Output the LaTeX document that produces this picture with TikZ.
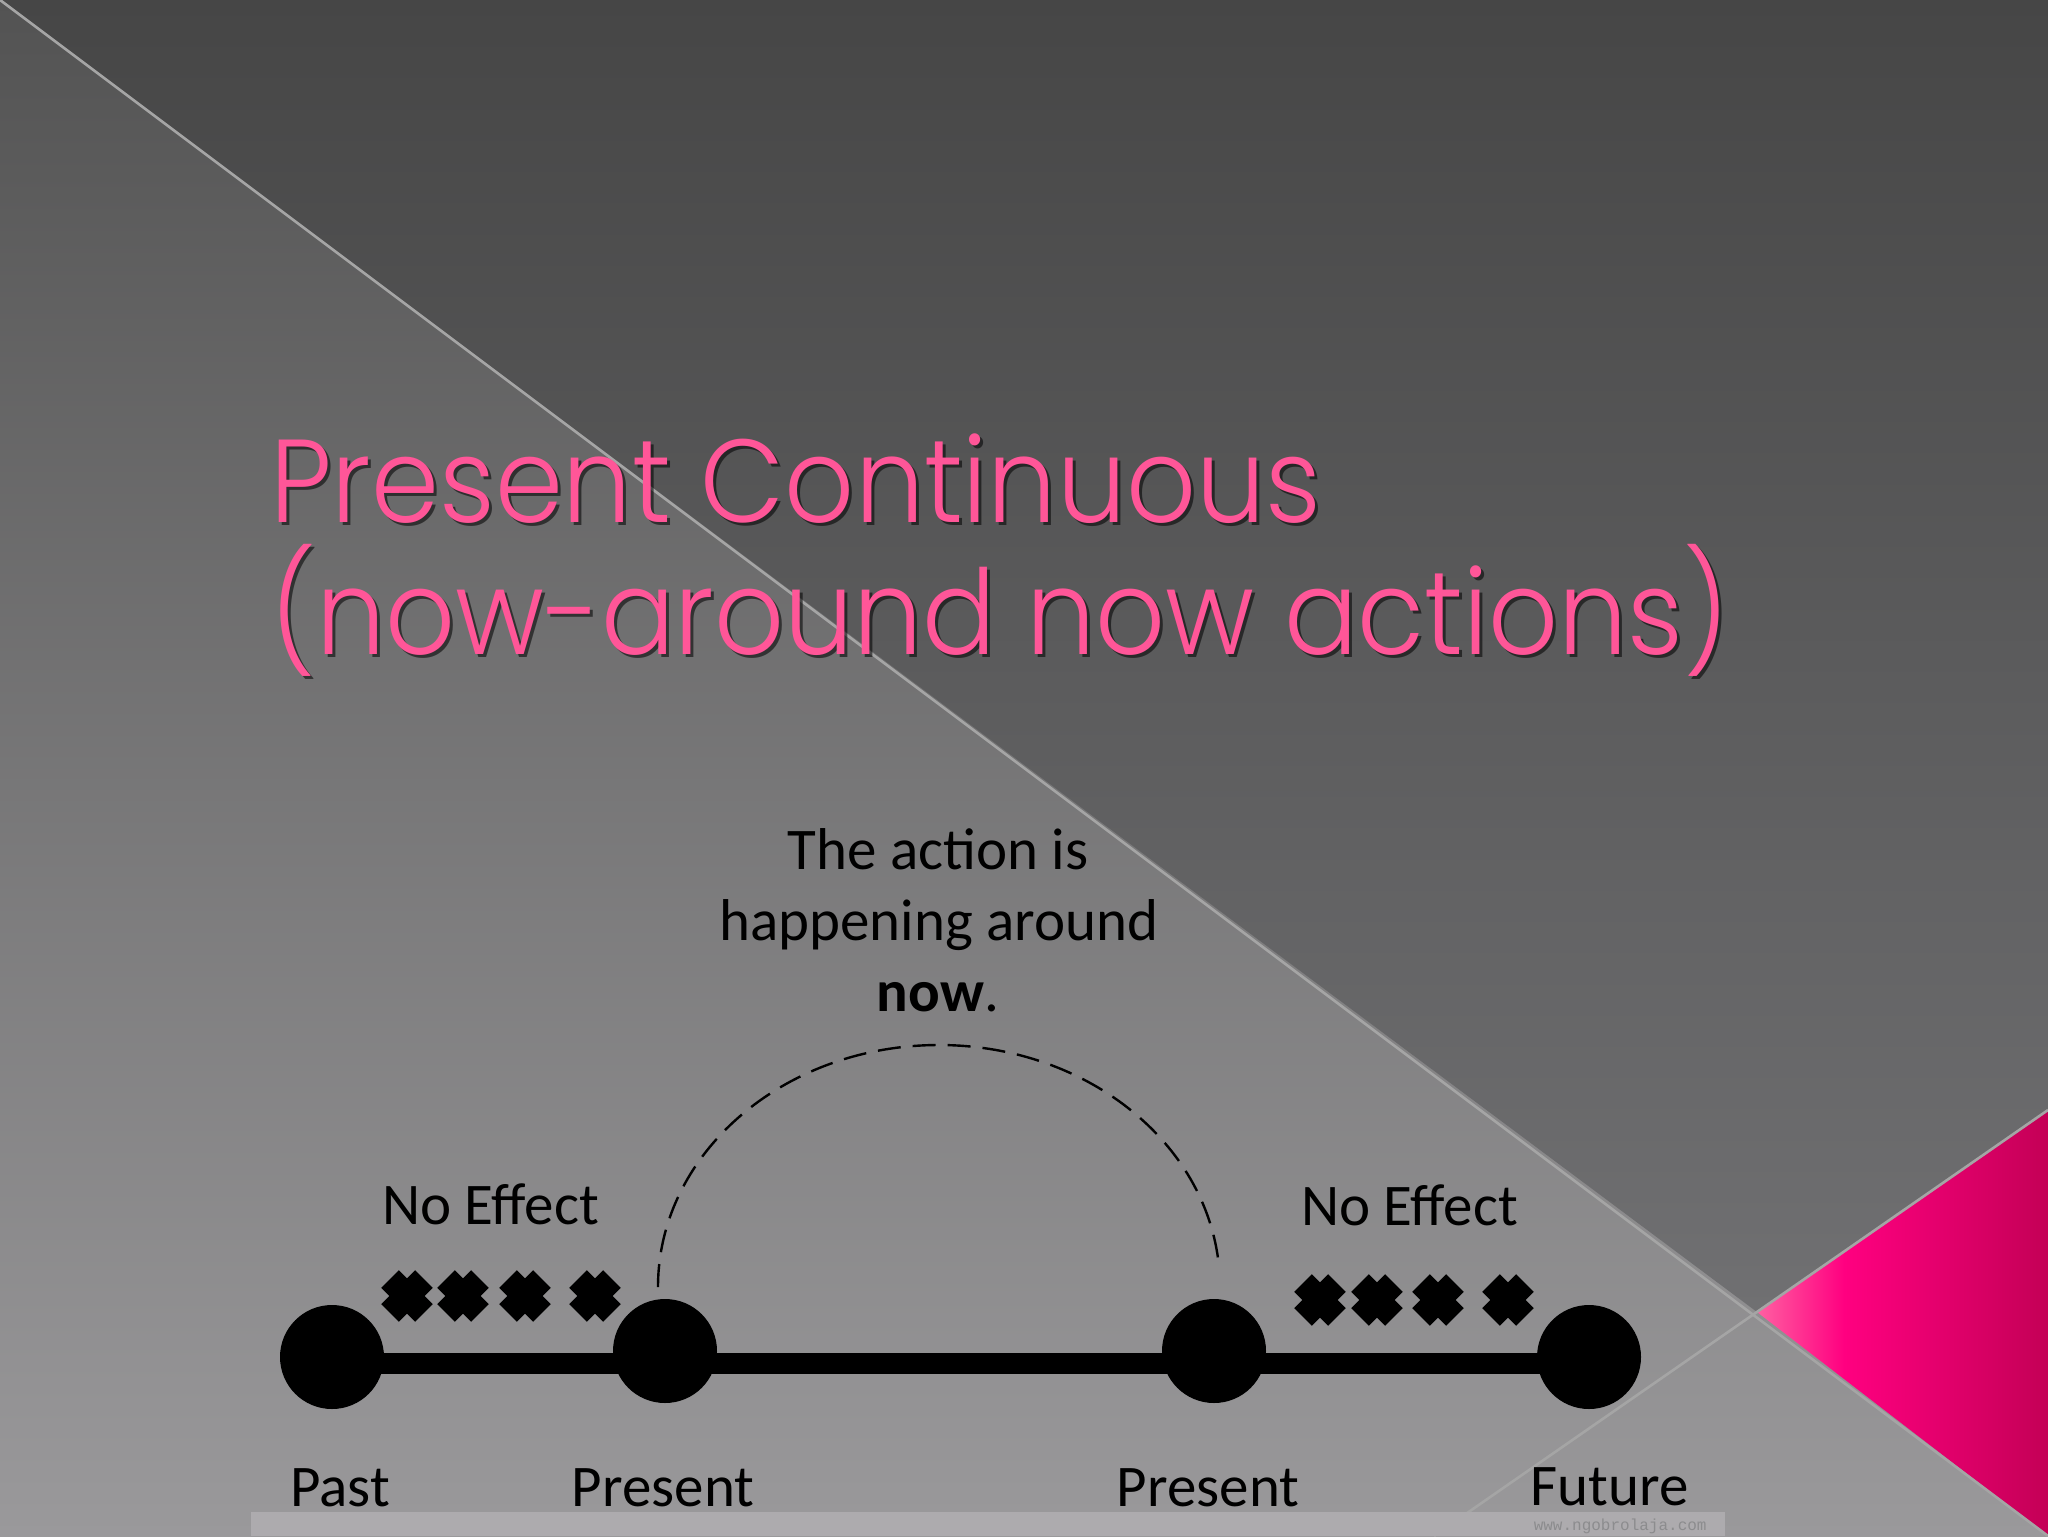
\documentclass[tikz,border=0pt]{standalone}
\usepackage{graphicx}
\usepackage{fontspec}
\setmainfont{Carlito}
\newfontfamily\titlefont{Poppins Light}
\newfontfamily\wmfont{Liberation Mono}
\definecolor{bgtop}{RGB}{83,83,83}
\definecolor{bgmid}{RGB}{106,106,107}
\definecolor{bgbot}{RGB}{154,153,155}
\definecolor{uptop}{RGB}{70,70,70}
\definecolor{upbot}{RGB}{112,112,114}
\definecolor{pinkL}{RGB}{255,96,162}
\definecolor{pinkM}{RGB}{255,0,128}
\definecolor{pinkR}{RGB}{196,0,86}
\definecolor{edgegray}{RGB}{165,165,165}
\definecolor{titlepink}{RGB}{255,86,152}
\definecolor{stripgray}{RGB}{173,171,174}
\definecolor{wmgray}{RGB}{140,140,142}
\pgfdeclarehorizontalshading{pinksh}{100bp}{color(0bp)=(pinkL); color(25bp)=(pinkL); color(40bp)=(pinkM); color(75bp)=(pinkR); color(100bp)=(pinkR)}
\newcommand{\ttl}[1]{\scalebox{0.925}[1]{#1}}
\tikzset{
  edge/.style={draw=edgegray, line width=1.3pt},
  dot/.style={circle, fill=black, minimum size=52pt, inner sep=0pt},
  bar/.style={line width=10.5pt, black},
  nowarc/.style={black, line width=1.2pt, dash pattern=on 11.5pt off 6pt},
  lbl/.style={inner sep=0pt, font=\fontsize{29.5}{35}\selectfont, text=black},
  titletxt/.style={inner sep=0pt, anchor=base west, font=\titlefont\fontsize{59}{59}\selectfont, text=titlepink},
  titleshadow/.style={inner sep=0pt, anchor=base west, font=\titlefont\fontsize{59}{59}\selectfont, text=black, opacity=0.55},
  xm/.pic={\fill[black, rotate=45] (-24,-12.5) rectangle (24,12.5);
           \fill[black, rotate=-45] (-24,-12.5) rectangle (24,12.5);}
}
\begin{document}
\begin{tikzpicture}[x=0.5pt,y=-0.5pt]
\useasboundingbox (0,0) rectangle (2048,1536);
% background
\shade[top color=bgtop, middle color=bgmid, bottom color=bgbot] (0,0) rectangle (2048,1536);
\shade[top color=uptop, bottom color=upbot] (0,0) -- (2048,0) -- (2048,1110) -- (1757,1312) -- cycle;
\shade[shading=pinksh] (1757,1312) -- (2048,1110) -- (2048,1536) -- cycle;
\draw[edge] (0,0) -- (2048,1536);
\draw[edge] (2048,1110) -- (1434,1536);
% watermark strip
\fill[stripgray] (251,1512) rectangle (1725,1536);
\node[inner sep=0pt, anchor=base east, font=\wmfont\fontsize{8}{8}\selectfont, text=wmgray] (wm) at (1707,1530) {www.ngobrolaja.com};
% title
\node[titleshadow] (t1s) at (273,525) {\ttl{Present Continuous}};
\node[titleshadow] (t2s) at (273,657) {\ttl{(now-around now actions)}};
\node[titletxt] (t1) at (270,522) {\ttl{Present Continuous}};
\node[titletxt] (t2) at (270,654) {\ttl{(now-around now actions)}};
% timeline
\coordinate (barL) at (332,1363);
\coordinate (barR) at (1589,1363);
\draw[bar] (barL) -- (barR);
\node[dot] (past) at (332,1357) {};
\node[dot] (pres1) at (665,1351) {};
\node[dot] (pres2) at (1214,1351) {};
\node[dot] (future) at (1589,1357) {};
% dashed arc
\coordinate (arcL) at (658,1287);
\draw[nowarc] (arcL) arc[start angle=180, end angle=355, x radius=281, y radius=242];
% crosses
\pic at (407,1296) {xm};
\pic at (463,1296) {xm};
\pic at (525,1296) {xm};
\pic at (595,1296) {xm};
\pic at (1320,1300) {xm};
\pic at (1377,1300) {xm};
\pic at (1438,1300) {xm};
\pic at (1508,1300) {xm};
% labels
\node[lbl, anchor=base] (m1) at (938,869) {The action is};
\node[lbl, anchor=base] (m2) at (939,940) {happening around};
\node[lbl, anchor=base] (m3) at (938,1011) {\textbf{now}.};
\node[lbl, anchor=base west] (ne1) at (382,1224) {No Effect};
\node[lbl, anchor=base west] (ne2) at (1301,1225) {No Effect};
\node[lbl, anchor=base west] (lpast) at (290,1506) {Past};
\node[lbl, anchor=base] (lpres1) at (663,1506) {Present};
\node[lbl, anchor=base] (lpres2) at (1208,1506) {Present};
\node[lbl, anchor=base west] (lfut) at (1530,1505) {Future};
\end{tikzpicture}
\end{document}
